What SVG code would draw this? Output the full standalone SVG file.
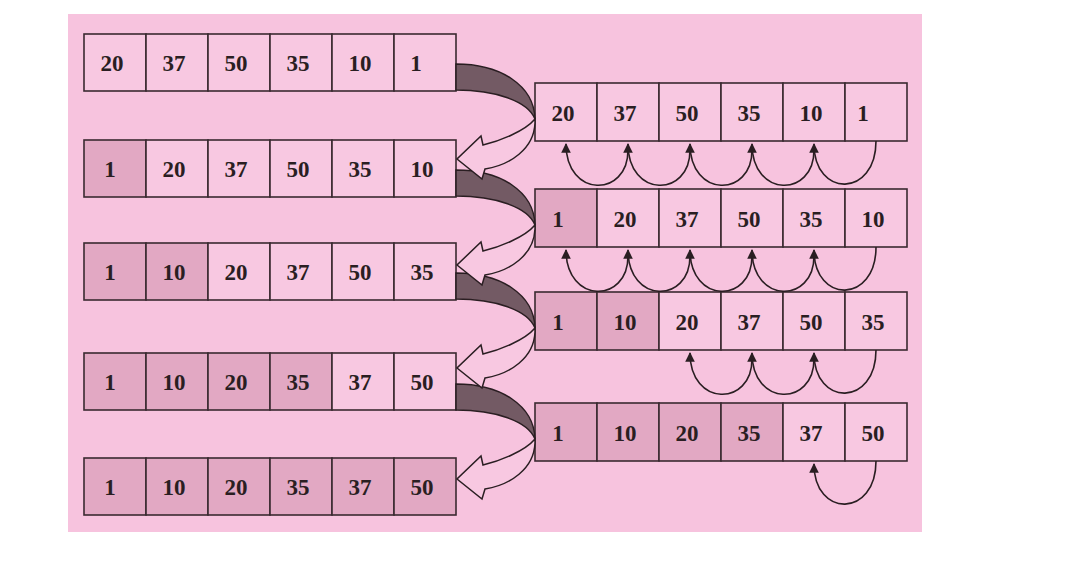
<svg xmlns="http://www.w3.org/2000/svg" width="1074" height="564" viewBox="0 0 1074 564">
<defs>
<style>
.c{fill:#f8c8e1;stroke:#3a2a30;stroke-width:1.6}
.s{fill:#e2a8c3;stroke:#3a2a30;stroke-width:1.6}
text{font-family:"Liberation Serif","Times New Roman",serif;font-size:23px;font-weight:bold;fill:#2a1e22;text-anchor:middle}
.band{fill:#735a64;stroke:#2a1e22;stroke-width:1.5}
.hollow{fill:#f8c8e1;stroke:#2a1e22;stroke-width:1.5;stroke-linejoin:miter}
.loop{fill:none;stroke:#2a1e22;stroke-width:1.6;marker-end:url(#ah)}
</style>
<marker id="ah" viewBox="0 0 10 10" refX="9" refY="5" markerWidth="6" markerHeight="6" orient="auto" markerUnits="strokeWidth">
<path d="M0,0 L10,5 L0,10 Z" fill="#2a1e22"/>
</marker>
<g id="band"><path class="band" d="M -79,-55 C -35,-55 -1,-34 0,0 C -7,-18 -40,-29 -79,-29 Z"/></g>
<g id="hol"><path class="hollow" d="M 0,0 C -10,12 -35,22 -52,26 L -54,17 L -78,40 L -53,60 L -50,50 C -25,46 -1,30 0,4 Z"/></g>
</defs>
<rect x="68" y="14" width="854" height="518" fill="#f7c3de"/>

<g id="L1">
<rect class="c" x="84" y="34" width="62" height="57"/><rect class="c" x="146" y="34" width="62" height="57"/><rect class="c" x="208" y="34" width="62" height="57"/><rect class="c" x="270" y="34" width="62" height="57"/><rect class="c" x="332" y="34" width="62" height="57"/><rect class="c" x="394" y="34" width="62" height="57"/>
<text x="112" y="71">20</text><text x="174" y="71">37</text><text x="236" y="71">50</text><text x="298" y="71">35</text><text x="360" y="71">10</text><text x="416" y="71">1</text>
</g>
<g id="L2">
<rect class="s" x="84" y="140" width="62" height="57"/><rect class="c" x="146" y="140" width="62" height="57"/><rect class="c" x="208" y="140" width="62" height="57"/><rect class="c" x="270" y="140" width="62" height="57"/><rect class="c" x="332" y="140" width="62" height="57"/><rect class="c" x="394" y="140" width="62" height="57"/>
<text x="110" y="177">1</text><text x="174" y="177">20</text><text x="236" y="177">37</text><text x="298" y="177">50</text><text x="360" y="177">35</text><text x="422" y="177">10</text>
</g>
<g id="L3">
<rect class="s" x="84" y="243" width="62" height="57"/><rect class="s" x="146" y="243" width="62" height="57"/><rect class="c" x="208" y="243" width="62" height="57"/><rect class="c" x="270" y="243" width="62" height="57"/><rect class="c" x="332" y="243" width="62" height="57"/><rect class="c" x="394" y="243" width="62" height="57"/>
<text x="110" y="280">1</text><text x="174" y="280">10</text><text x="236" y="280">20</text><text x="298" y="280">37</text><text x="360" y="280">50</text><text x="422" y="280">35</text>
</g>
<g id="L4">
<rect class="s" x="84" y="353" width="62" height="57"/><rect class="s" x="146" y="353" width="62" height="57"/><rect class="s" x="208" y="353" width="62" height="57"/><rect class="s" x="270" y="353" width="62" height="57"/><rect class="c" x="332" y="353" width="62" height="57"/><rect class="c" x="394" y="353" width="62" height="57"/>
<text x="110" y="390">1</text><text x="174" y="390">10</text><text x="236" y="390">20</text><text x="298" y="390">35</text><text x="360" y="390">37</text><text x="422" y="390">50</text>
</g>
<g id="L5">
<rect class="s" x="84" y="458" width="62" height="57"/><rect class="s" x="146" y="458" width="62" height="57"/><rect class="s" x="208" y="458" width="62" height="57"/><rect class="s" x="270" y="458" width="62" height="57"/><rect class="s" x="332" y="458" width="62" height="57"/><rect class="s" x="394" y="458" width="62" height="57"/>
<text x="110" y="495">1</text><text x="174" y="495">10</text><text x="236" y="495">20</text><text x="298" y="495">35</text><text x="360" y="495">37</text><text x="422" y="495">50</text>
</g>

<g id="R1">
<rect class="c" x="535" y="83" width="62" height="58"/><rect class="c" x="597" y="83" width="62" height="58"/><rect class="c" x="659" y="83" width="62" height="58"/><rect class="c" x="721" y="83" width="62" height="58"/><rect class="c" x="783" y="83" width="62" height="58"/><rect class="c" x="845" y="83" width="62" height="58"/>
<text x="563" y="121">20</text><text x="625" y="121">37</text><text x="687" y="121">50</text><text x="749" y="121">35</text><text x="811" y="121">10</text><text x="863" y="121">1</text>
</g>
<g id="R2">
<rect class="s" x="535" y="189" width="62" height="58"/><rect class="c" x="597" y="189" width="62" height="58"/><rect class="c" x="659" y="189" width="62" height="58"/><rect class="c" x="721" y="189" width="62" height="58"/><rect class="c" x="783" y="189" width="62" height="58"/><rect class="c" x="845" y="189" width="62" height="58"/>
<text x="558" y="227">1</text><text x="625" y="227">20</text><text x="687" y="227">37</text><text x="749" y="227">50</text><text x="811" y="227">35</text><text x="873" y="227">10</text>
</g>
<g id="R3">
<rect class="s" x="535" y="292" width="62" height="58"/><rect class="s" x="597" y="292" width="62" height="58"/><rect class="c" x="659" y="292" width="62" height="58"/><rect class="c" x="721" y="292" width="62" height="58"/><rect class="c" x="783" y="292" width="62" height="58"/><rect class="c" x="845" y="292" width="62" height="58"/>
<text x="558" y="330">1</text><text x="625" y="330">10</text><text x="687" y="330">20</text><text x="749" y="330">37</text><text x="811" y="330">50</text><text x="873" y="330">35</text>
</g>
<g id="R4">
<rect class="s" x="535" y="403" width="62" height="58"/><rect class="s" x="597" y="403" width="62" height="58"/><rect class="s" x="659" y="403" width="62" height="58"/><rect class="s" x="721" y="403" width="62" height="58"/><rect class="c" x="783" y="403" width="62" height="58"/><rect class="c" x="845" y="403" width="62" height="58"/>
<text x="558" y="441">1</text><text x="625" y="441">10</text><text x="687" y="441">20</text><text x="749" y="441">35</text><text x="811" y="441">37</text><text x="873" y="441">50</text>
</g>

<g id="connectors">
<use href="#band" x="535" y="119"/>
<use href="#band" x="535" y="225"/>
<use href="#band" x="535" y="328"/>
<use href="#band" x="535" y="439"/>
<use href="#hol" x="535" y="119"/>
<use href="#hol" x="535" y="225"/>
<use href="#hol" x="535" y="328"/>
<use href="#hol" x="535" y="439"/>
<path class="loop" d="M876,141 C876,198 814,198 814,144"/>
<path class="loop" d="M814,150 C814,198 752,198 752,144"/>
<path class="loop" d="M752,150 C752,198 690,198 690,144"/>
<path class="loop" d="M690,150 C690,198 628,198 628,144"/>
<path class="loop" d="M628,150 C628,198 566,198 566,144"/>
<path class="loop" d="M876,247 C876,304 814,304 814,250"/>
<path class="loop" d="M814,256 C814,304 752,304 752,250"/>
<path class="loop" d="M752,256 C752,304 690,304 690,250"/>
<path class="loop" d="M690,256 C690,304 628,304 628,250"/>
<path class="loop" d="M628,256 C628,304 566,304 566,250"/>
<path class="loop" d="M876,350 C876,407 814,407 814,353"/>
<path class="loop" d="M814,359 C814,407 752,407 752,353"/>
<path class="loop" d="M752,359 C752,407 690,407 690,353"/>
<path class="loop" d="M876,461 C876,518 814,518 814,464"/>
</g>
</svg>
